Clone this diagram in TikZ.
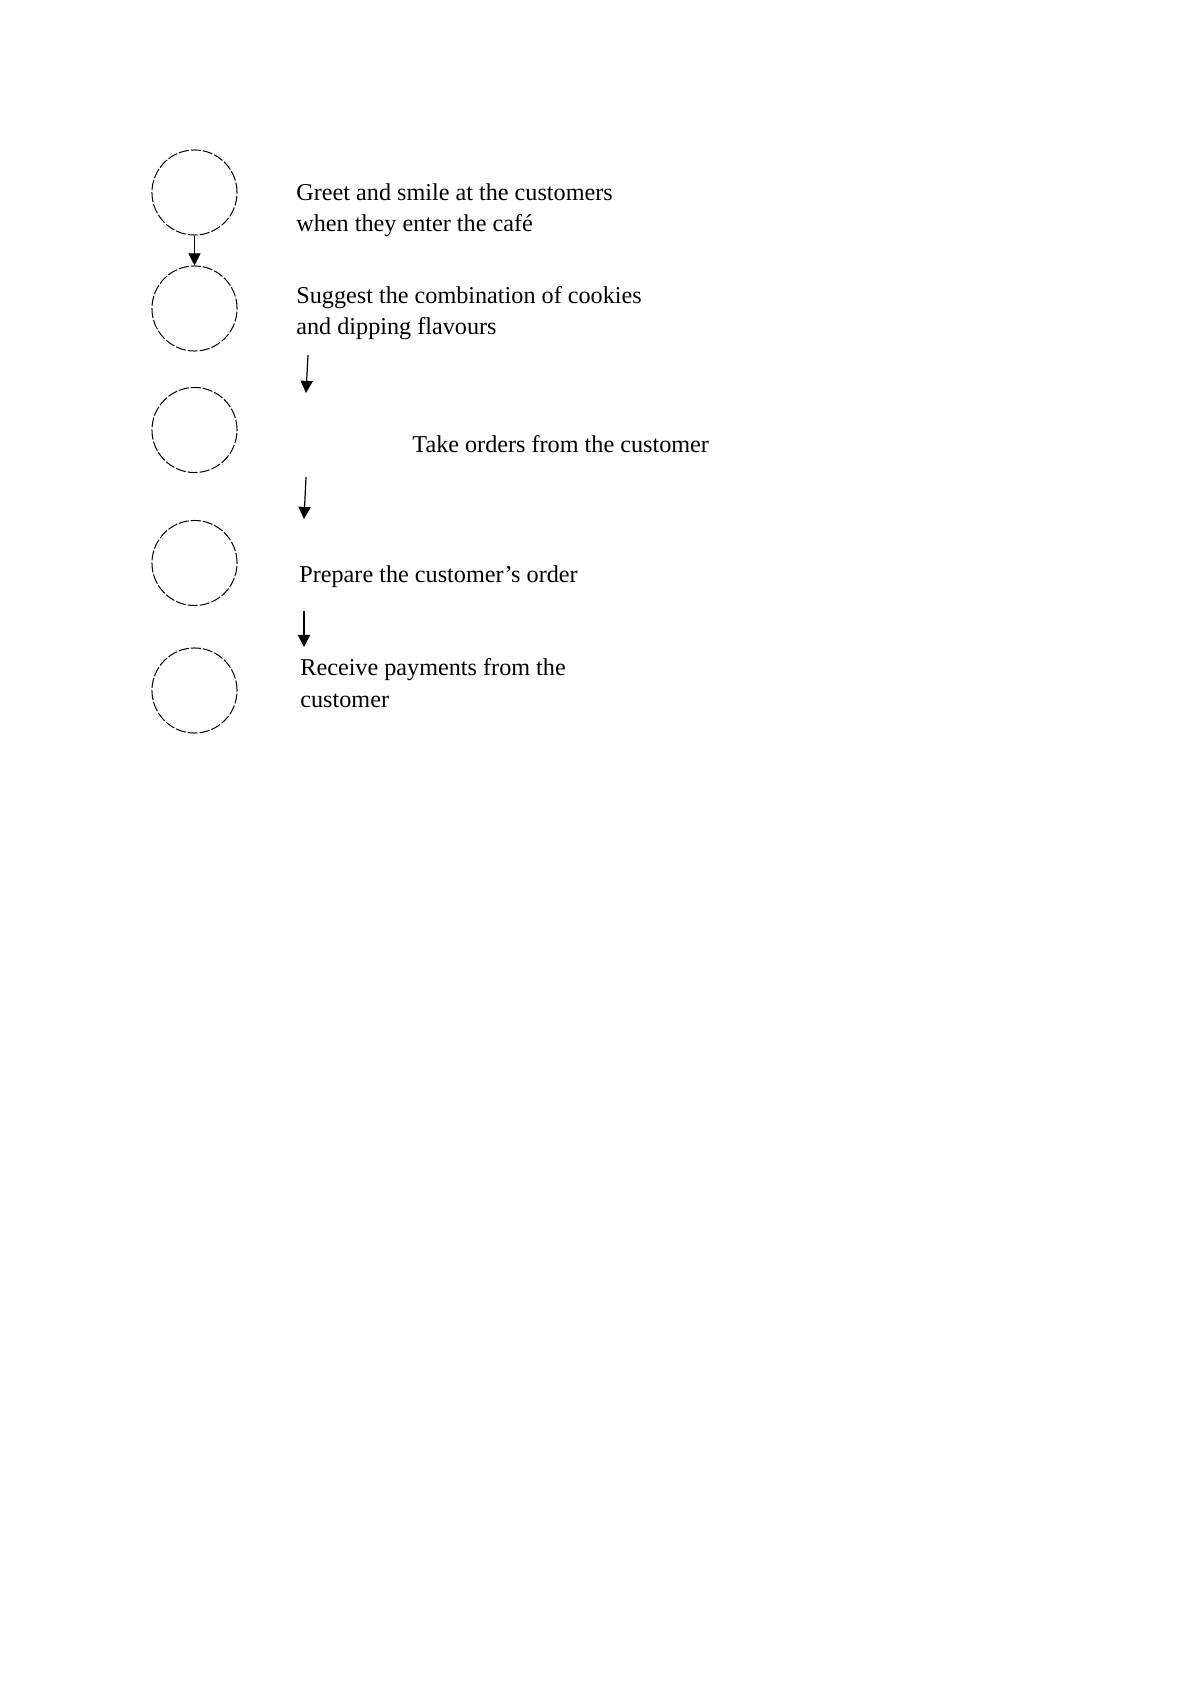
\documentclass[tikz,border=0pt]{standalone}
\usepackage{fontspec}
\setmainfont{Liberation Serif}
\usepackage{tikz}
\usetikzlibrary{arrows.meta,positioning}

\begin{document}
\begin{tikzpicture}[x=0.49608pt,y=-0.49608pt,
    stage/.style={circle,draw,dash pattern=on 5pt off 1pt,line width=0.5pt,
                  minimum size=42.2pt,inner sep=0pt},
    duty/.style={anchor=base west,align=left,inner sep=0pt,
                 font=\fontsize{12}{15.4}\selectfont},
    flow/.style={-{Triangle[length=6pt,width=6pt]},line width=0.6pt}]

    \useasboundingbox (0,0) rectangle (1200,1698);

    % the five stages down the left side
    \node[stage] (s1) at (194.5,192.5) {};
    \node[stage] (s2) at (194.5,308.5) {};
    \node[stage] (s3) at (194.5,430)   {};
    \node[stage] (s4) at (194.5,563)   {};
    \node[stage] (s5) at (194.5,690.5) {};

    % what the staff do at each stage
    % (two-line texts are placed by their last line)
    \node[duty] (t1) at (296,232) {Greet and smile at the customers\\when they enter the café};
    \node[duty] (t2) at (296,335) {Suggest the combination of cookies\\and dipping flavours};
    \node[duty] (t3) at (412,452) {Take orders from the customer};
    \node[duty] (t4) at (299,582) {Prepare the customer’s order};
    \node[duty] (t5) at (300,707) {Receive payments from the\\customer};

    % arrows (only the first one joins two circles)
    \coordinate (a2top) at (308,355);
    \coordinate (a2tip) at (306,393);
    \coordinate (a3top) at (306,477);
    \coordinate (a3tip) at (304,519);
    \coordinate (a4top) at (304,611);
    \coordinate (a4tip) at (304,647);

    \draw[flow] (s1) -- (s2);
    \draw[flow] (a2top) -- (a2tip);
    \draw[flow] (a3top) -- (a3tip);
    \draw[flow] (a4top) -- (a4tip);
\end{tikzpicture}
\end{document}
